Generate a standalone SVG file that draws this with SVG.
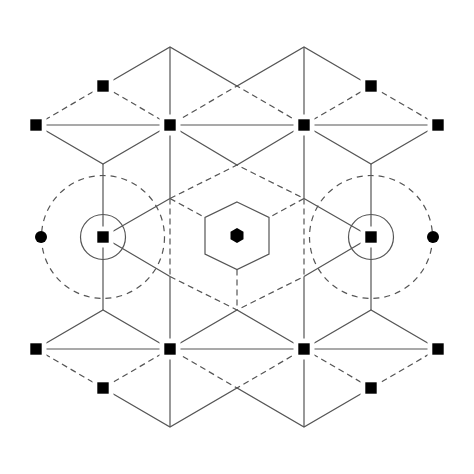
<svg xmlns="http://www.w3.org/2000/svg" xmlns:xlink="http://www.w3.org/1999/xlink" width="474" height="474" viewBox="0 0 474 474">
<style>
.s{stroke:#555;stroke-width:1.2;fill:none}
.d{stroke:#555;stroke-width:1.2;fill:none;stroke-dasharray:6 4}
.c{stroke:#555;stroke-width:1.2;fill:none;stroke-dasharray:6 5}
</style>
<defs>
<g id="sq"><rect x="-10.5" y="-10.5" width="21" height="21" fill="#fff"/><rect x="-5.7" y="-5.7" width="11.4" height="11.4" fill="#000"/></g>
</defs>
<rect width="474" height="474" fill="#fff"/>
<g id="rings">
<circle class="c" cx="103" cy="237" r="61.5"/>
<circle class="c" cx="371" cy="237" r="61.5"/>
<circle class="s" cx="103" cy="237" r="22.5"/>
<circle class="s" cx="371" cy="237" r="22.5"/>
</g>
<g id="connectors">
<path class="s" d="M103 86L170 47L237 86L304 47L371 86"/>
<path class="s" d="M103 388L170 427L237 388L304 427L371 388"/>
<path class="d" d="M36 125L103 86L170 125L237 86L304 125L371 86L438 125"/>
<path class="d" d="M36 349L103 388L170 349L237 388L304 349L371 388L438 349"/>
<path class="s" d="M36 125H438M36 349H438"/>
<path class="s" d="M36 125L103 164L170 125M304 125L371 164L438 125"/>
<path class="s" d="M36 349L103 310L170 349M304 349L371 310L438 349"/>
<path class="s" d="M103 164V310M371 164V310"/>
<path class="s" d="M170 47V198.5M170 276.5V427M304 47V198.5M304 276.5V427"/>
<path class="d" d="M170 198.5V276.5M304 198.5V276.5"/>
<path class="s" d="M170 125L237 165L304 125"/>
<path class="d" d="M170 198.5L237 165L304 198.5"/>
<path class="s" d="M103 237L170 198.5M103 237L170 276.5M371 237L304 198.5M371 237L304 276.5"/>
<path class="d" d="M170 198.5L205 217.5M304 198.5L269 217.5"/>
<path class="d" d="M170 276.5L237 310L304 276.5M237 269.5V310"/>
<path class="s" d="M170 349L237 310L304 349"/>
</g>
<g id="hexagon">
<polygon class="s" points="237,202 269,217.5 269,254 237,269.5 205,254 205,217.5"/>
<polygon fill="#000" points="237,228 243.5,231.8 243.5,239.2 237,243 230.5,239.2 230.5,231.8"/>
</g>
<g id="dot-left"><circle cx="41" cy="237" r="6" fill="#000"/></g>
<g id="dot-right"><circle cx="433" cy="237" r="6" fill="#000"/></g>
<g id="squares">
<use id="sq1" href="#sq" x="36" y="125"/>
<use id="sq2" href="#sq" x="103" y="86"/>
<use id="sq3" href="#sq" x="170" y="125"/>
<use id="sq4" href="#sq" x="304" y="125"/>
<use id="sq5" href="#sq" x="371" y="86"/>
<use id="sq6" href="#sq" x="438" y="125"/>
<use id="sq7" href="#sq" x="36" y="349"/>
<use id="sq8" href="#sq" x="103" y="388"/>
<use id="sq9" href="#sq" x="170" y="349"/>
<use id="sq10" href="#sq" x="304" y="349"/>
<use id="sq11" href="#sq" x="371" y="388"/>
<use id="sq12" href="#sq" x="438" y="349"/>
<use id="sq13" href="#sq" x="103" y="237"/>
<use id="sq14" href="#sq" x="371" y="237"/>
</g>
</svg>
